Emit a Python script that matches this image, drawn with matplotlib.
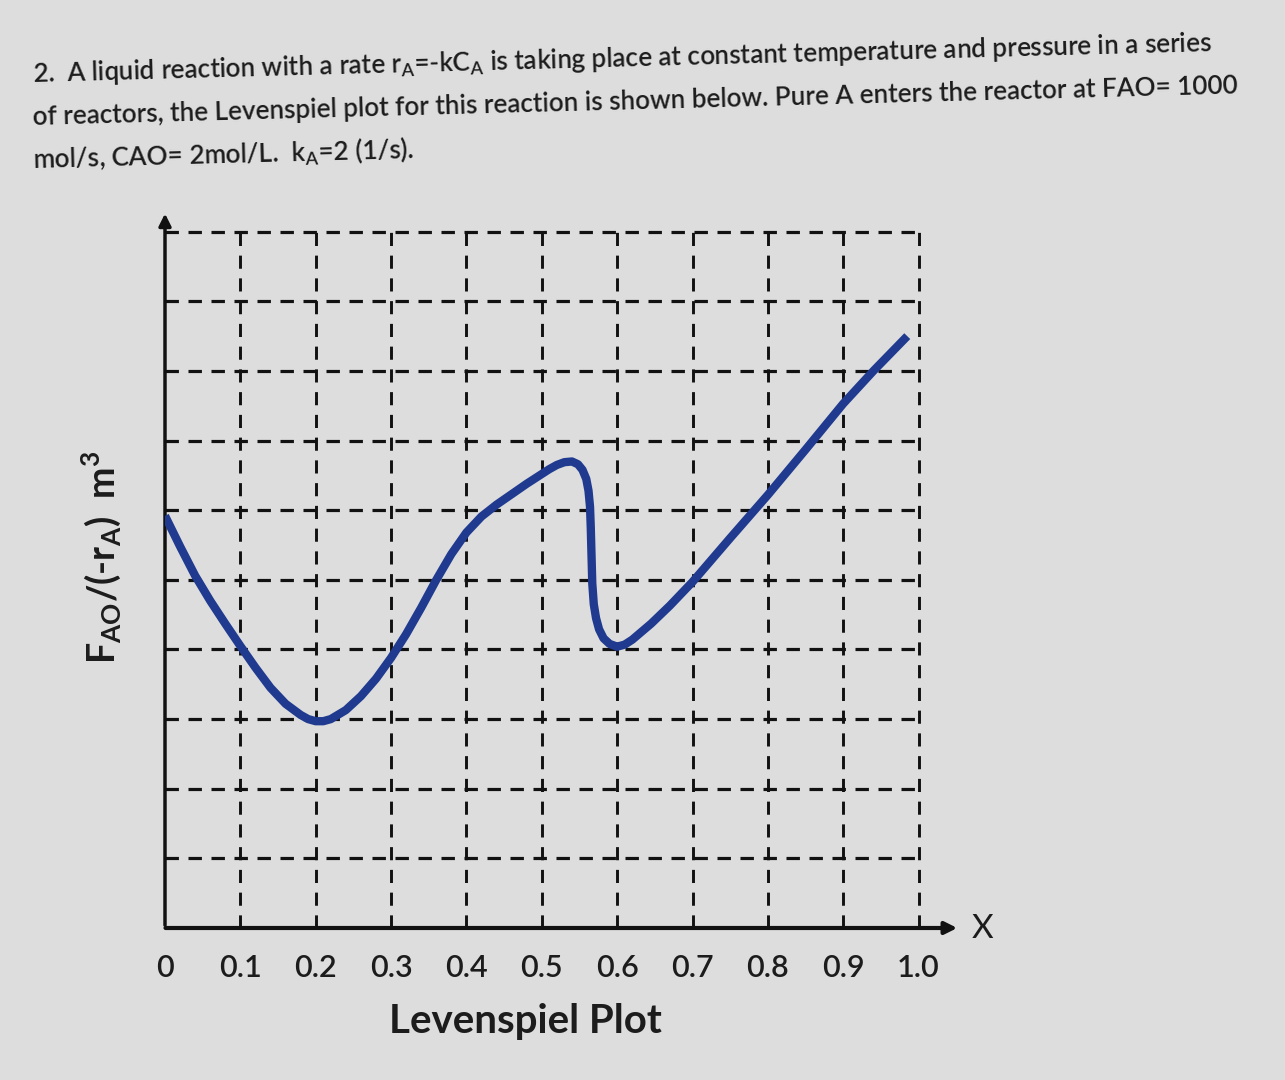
import matplotlib
matplotlib.use("Agg")
import matplotlib.pyplot as plt

plt.rcParams['font.family'] = ['Lato', 'DejaVu Sans']

# curve (x conversion, y in grid units)
conv = [0.00, 0.02, 0.04, 0.06, 0.08, 0.10, 0.12, 0.14, 0.16, 0.18, 0.19, 0.20,
        0.21, 0.22, 0.24, 0.26, 0.28, 0.30, 0.32, 0.34, 0.36, 0.38, 0.40, 0.42,
        0.44, 0.46, 0.48, 0.50, 0.51, 0.52, 0.53, 0.54, 0.548, 0.554, 0.559,
        0.562, 0.564, 0.565, 0.566, 0.567, 0.569, 0.572, 0.576, 0.582,
        0.590, 0.600, 0.61, 0.62, 0.645, 0.67, 0.70, 0.75, 0.80, 0.85, 0.90,
        0.94, 0.985]
levs = [5.92, 5.48, 5.06, 4.70, 4.37, 4.05, 3.74, 3.45, 3.22, 3.06, 3.00, 2.97,
        2.97, 3.00, 3.13, 3.33, 3.58, 3.88, 4.22, 4.60, 5.00, 5.37, 5.68, 5.91,
        6.08, 6.23, 6.38, 6.52, 6.59, 6.65, 6.69, 6.70, 6.66, 6.58, 6.45,
        6.28, 6.05, 5.75, 5.35, 4.95, 4.65, 4.45, 4.29, 4.16,
        4.08, 4.04, 4.07, 4.14, 4.37, 4.63, 4.97, 5.60, 6.22, 6.87, 7.53,
        8.00, 8.50]

xgrid = [0.1, 0.2, 0.3, 0.4, 0.5, 0.6, 0.7, 0.8, 0.9, 1.0]
ygrid = [1, 2, 3, 4, 5, 6, 7, 8, 9, 10]
xtick_labels = ['0', '0.1', '0.2', '0.3', '0.4', '0.5', '0.6', '0.7', '0.8', '0.9', '1.0']

bg = '#dddddd'
ink = '#1c1c1c'
fig = plt.figure(figsize=(12.85, 10.8), dpi=100, facecolor=bg)
ax = fig.add_axes([165/1285, 152/1080, 844/1285, 752/1080])
ax.set_facecolor(bg)
ax.set_xlim(0, 1.12)
ax.set_ylim(0, 10.8)
for s in ax.spines.values():
    s.set_visible(False)

# dashed grid
for y in ygrid:
    ax.plot([0, 1.0], [y, y], color='#111111', lw=2.3, dashes=(4.2, 3), zorder=1)
for x in xgrid:
    ax.plot([x, x], [0, 10], color='#111111', lw=2.1, dashes=(4.5, 3.3), zorder=1)

# axes with arrows
ax.annotate('', xy=(0, 10.3), xytext=(0, 0),
            arrowprops=dict(arrowstyle='-|>', color='#111111', lw=2.5, mutation_scale=18))
ax.annotate('', xy=(1.055, 0), xytext=(-0.003, 0),
            arrowprops=dict(arrowstyle='-|>', color='#111111', lw=3, mutation_scale=18))
ax.text(1.085, -0.02, 'X', fontsize=24, ha='center', va='center', color=ink)

ax.plot(conv, levs, color='#1f3a8f', lw=6, solid_joinstyle='round',
        solid_capstyle='butt', zorder=3)

ax.set_xticks([0] + xgrid)
ax.set_xticklabels(xtick_labels, fontsize=22, color=ink, fontweight=600)
ax.tick_params(axis='x', length=0, pad=19)
ax.set_yticks([])

ax.set_ylabel(r'F$_\mathregular{AO}$/(-r$_\mathregular{A}$)  m$^\mathregular{3}$',
              fontsize=27, fontweight='bold', color=ink)
ax.yaxis.set_label_coords(-0.05, 0.493)

fig.text(525/1285, 1 - 1022/1080, 'Levenspiel Plot', fontsize=29,
         fontweight='bold', ha='center', va='center', color=ink)

lines = [
    r'2.  A liquid reaction with a rate r$_\mathregular{A}$=-kC$_\mathregular{A}$ is taking place at constant temperature and pressure in a series',
    'of reactors, the Levenspiel plot for this reaction is shown below. Pure A enters the reactor at FAO= 1000',
    r'mol/s, CAO= 2mol/L.  k$_\mathregular{A}$=2 (1/s).',
]
ys = [82, 125, 168]
for t, y in zip(lines, ys):
    fig.text(33/1285, 1 - y/1080, t, fontsize=18.7, ha='left', va='baseline',
             fontweight=600, rotation=1.5, rotation_mode='anchor', color=ink)

fig.savefig('out.png', dpi=100, facecolor=bg)
